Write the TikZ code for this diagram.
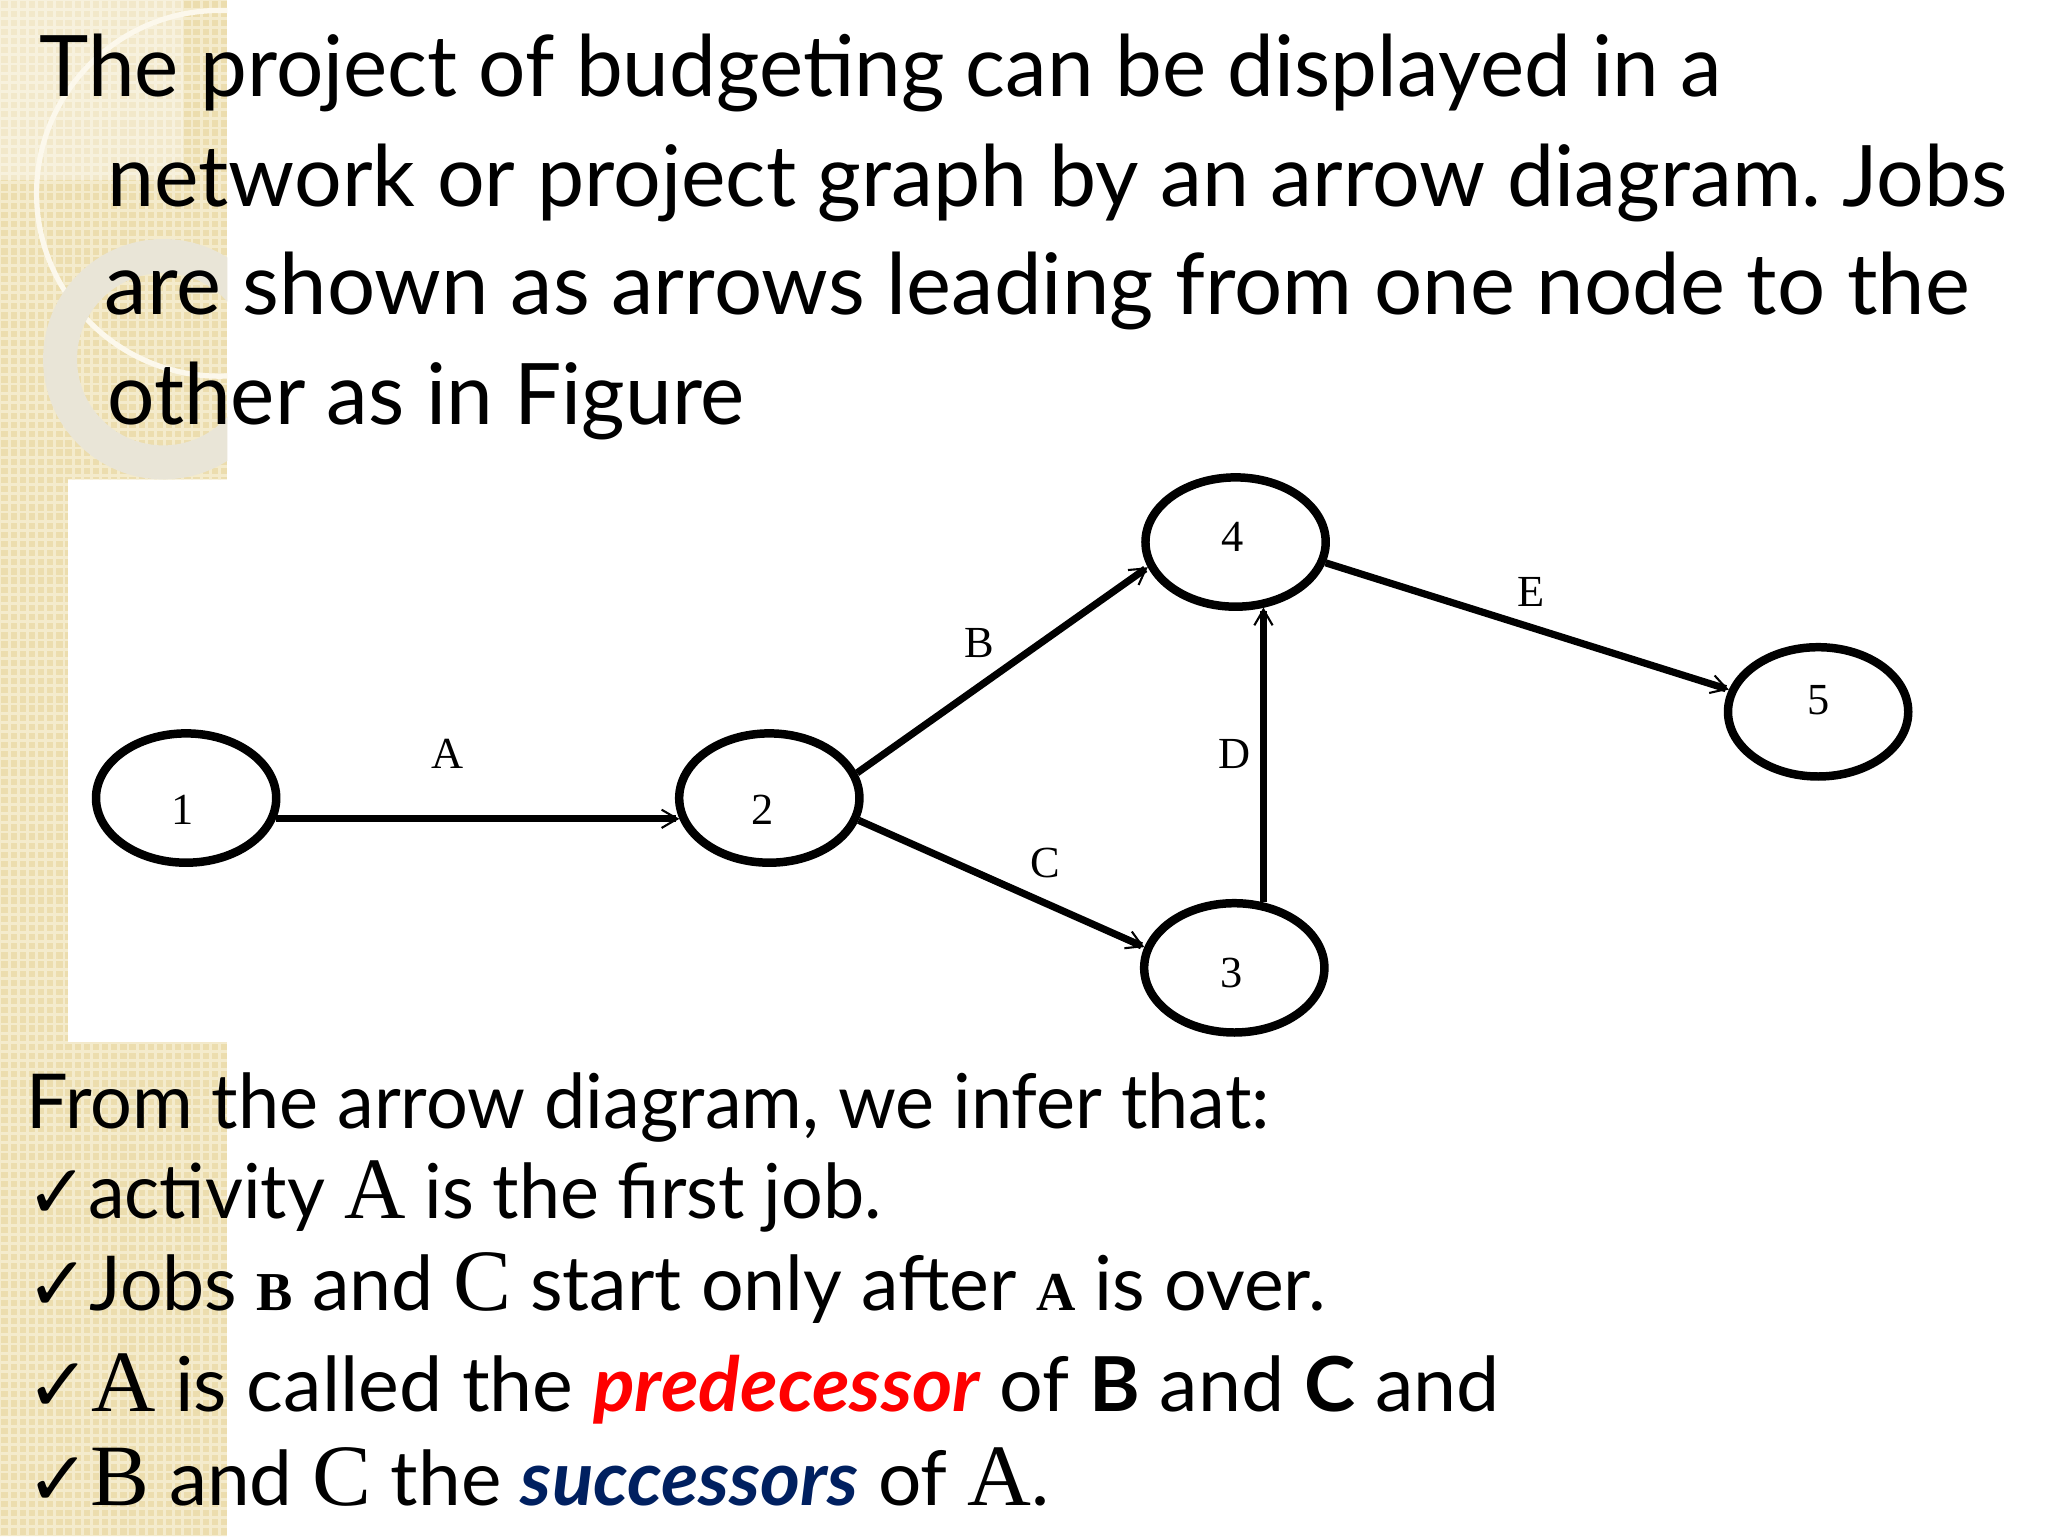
\documentclass[tikz,border=0pt]{standalone}
\usepackage{graphicx}
\usepackage{fontspec}
\setmainfont{Lato}
\newfontfamily\serifA{Liberation Serif}
\newfontfamily\checkf{DejaVu Sans}
\usetikzlibrary{shapes.geometric,arrows.meta}
\frenchspacing
\definecolor{stripebg}{HTML}{ECDDAE}
\definecolor{stripeln}{HTML}{F4EBCC}
\definecolor{ringcol}{HTML}{E9E5D7}
\definecolor{arccol}{HTML}{FCF8EC}
\definecolor{navyS}{HTML}{002060}
\newsavebox\fitbox
\newdimen\fitd
\newcommand\fitw[2]{\sbox\fitbox{#2}\fitd=\wd\fitbox\pgfmathsetmacro\fitr{#1/\fitd}\scalebox{\fitr}[1]{\usebox\fitbox}}
\newcommand\bigS[1]{{\serifA\fontsize{67}{70}\selectfont #1}}
\newcommand\smS[1]{{\serifA\bfseries\fontsize{42}{44}\selectfont #1}}
\newcommand\chk{{\checkf\fontsize{58}{60}\selectfont ✓}}
\tikzset{
  evt/.style={ellipse, draw, line width=6.5pt, minimum width=138pt, minimum height=99pt, inner sep=0pt},
  num/.style={font=\serifA\fontsize{34}{36}\selectfont, inner sep=0pt},
  job/.style={line width=5.5pt, -{Straight Barb[length=12pt,width=14pt,line width=1.6pt]}},
  title/.style={font=\fontsize{65}{78}\selectfont, inner sep=0pt, anchor=base west},
  body/.style={font=\fontsize{58}{70}\selectfont, inner sep=0pt, anchor=base west}
}
\begin{document}
\begin{tikzpicture}[x=1pt,y=-1pt]
\useasboundingbox (0,0) rectangle (1568,1176);
\fill[white] (0,0) rectangle (1568,1176);
% decorative stripe
\begin{scope}
\clip (0,0) -- (174,0) -- (174,367) -- (52,367) -- (52,798) -- (174,798) -- (174,1176) -- (0,1176) -- cycle;
\fill[stripebg] (0,0) rectangle (174,1176);
\draw[stripeln, line width=2.2pt] (0,0) grid[step=7pt] (174,1176);
\fill[white, opacity=0.35] (0,0) rectangle (140,138);
\draw[arccol, line width=4pt] (168,148) circle[radius=140pt];
\draw[ringcol, line width=26pt] (125,275) circle[radius=79pt];
\end{scope}
% title
\node[title] (t1) at (30,74) {\fitw{1288}{The project of budgeting can be displayed in a}};
\node[title] (t2) at (82,158) {\fitw{1455}{network or project graph by an arrow diagram. Jobs}};
\node[title] (t3) at (80,241) {\fitw{1428}{are shown as arrows leading from one node to the}};
\node[title] (t4) at (82,325) {\fitw{488}{other as in Figure}};
% network
\node[evt] (n1) at (142.5,611) {};
\node[evt] (n2) at (589,611) {};
\node[evt] (n4) at (946,415) {};
\node[evt] (n3) at (945,741) {};
\node[evt] (n5) at (1392,545) {};
\node[num] (l1) at (140,620) {1};
\node[num] (l2) at (584,620) {2};
\node[num] (l4) at (944,411) {4};
\node[num] (l3) at (943,745) {3};
\node[num] (l5) at (1392,536) {5};
\draw[job] (n1.-13) -- (n2.-167);
\draw[job] (n2.16) -- (n4.196);
\draw[job] (n2.-14) -- (n3.167);
\draw[job] (n3.66) -- (n3.66 |- n4.-66);
\draw[job] (n4.-13) -- (n5.166);
\node[num] (ea) at (343,577) {A};
\node[num] (eb) at (750,492) {B};
\node[num] (ec) at (800,661) {C};
\node[num] (ed) at (945,577) {D};
\node[num] (ee) at (1172,453) {E};
% bottom text
\node[body] (b1) at (20,864) {\fitw{952}{From the arrow diagram, we infer that:}};
\node[body] (b2) at (20,933) {\fitw{655}{\chk activity \bigS{A} is the first job.}};
\node[body] (b3) at (20,1003) {\fitw{995}{\chk Jobs \smS{B} and \bigS{C} start only after \smS{A} is over.}};
\node[body] (b4) at (20,1081) {\fitw{1128}{\chk\bigS{A} is called the {\color{red}\bfseries\itshape predecessor} of \textbf{B} and \textbf{C} and}};
\node[body] (b5) at (20,1153) {\fitw{783}{\chk\bigS{B} and \bigS{C} the {\color{navyS}\bfseries\itshape successors} of \bigS{A}.}};
\end{tikzpicture}
\end{document}
